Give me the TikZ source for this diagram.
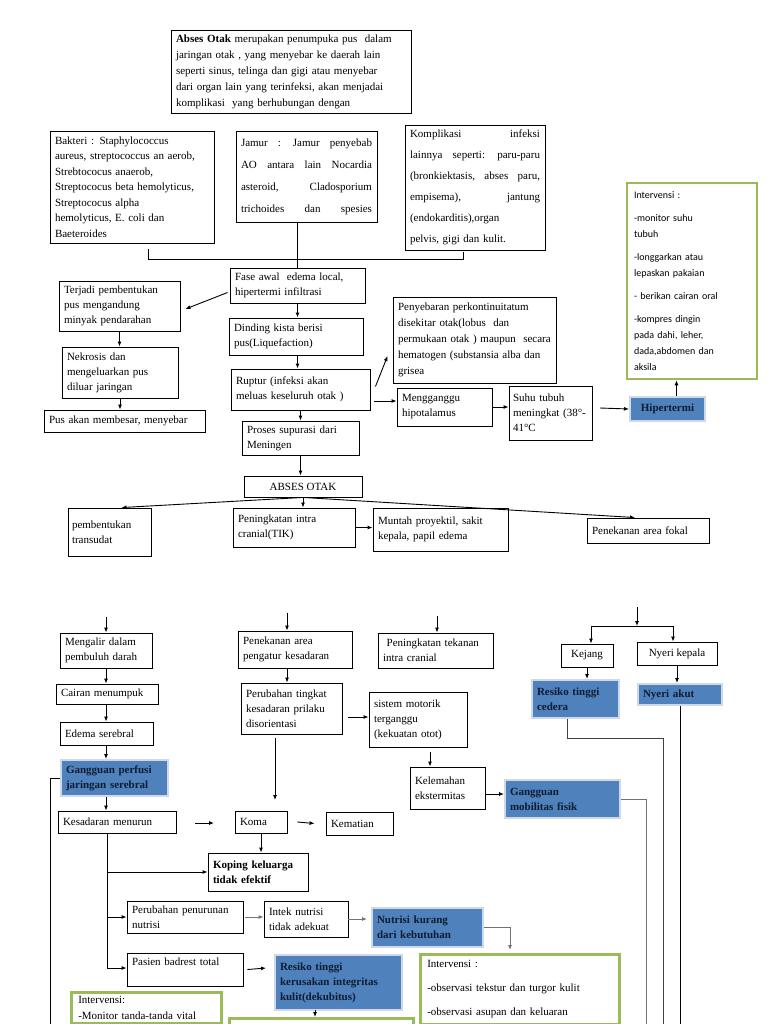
\documentclass[tikz,border=0pt]{standalone}
\usepackage{fontspec}
\setmainfont{Liberation Serif}
\newfontfamily\calib{Carlito}
\usepackage{xcolor}
\usetikzlibrary{arrows.meta}
\definecolor{dxblue}{RGB}{79,129,189}
\definecolor{dxedge}{RGB}{205,216,232}
\definecolor{dxtext}{RGB}{15,28,48}
\definecolor{ivgreen}{RGB}{155,187,89}

\begin{document}
\begin{tikzpicture}[x=1pt,y=-1pt,
  box/.style={draw, line width=0.9pt, inner xsep=5pt, inner ysep=2pt, align=left, font=\fontsize{11}{15}\selectfont},
  dx/.style={box, fill=dxblue, draw=dxedge, line width=2pt, text=dxtext, font=\fontsize{11}{15}\selectfont\bfseries},
  iv/.style={draw=ivgreen, line width=2.5pt, inner xsep=7pt, inner ysep=6pt, align=left},
  ln/.style={line width=0.9pt},
  gln/.style={ln, draw=black!55},
  arr/.style={ln, -{Latex[length=5pt,width=4pt]}}]
\useasboundingbox (0,0) rectangle (768,1024);

% upper part
\node[box, text width=230pt, minimum height=83pt, font=\fontsize{11}{16}\selectfont] (intro) at (291,71.5) {\textbf{Abses Otak} merupakan penumpuka pus\ \ dalam\\ jaringan otak , yang menyebar ke daerah lain\\ seperti sinus, telinga dan gigi atau menyebar\\ dari organ lain yang terinfeksi, akan menjadai\\ komplikasi\ \ yang berhubungan dengan};
\node[box, text width=154pt, minimum height=112pt, font=\fontsize{11}{15.5}\selectfont] (bakteri) at (132,187) {Bakteri : Staphylococcus\\ aureus, streptococcus an aerob,\\ Strebtococus anaerob,\\ Streptococus beta hemolyticus,\\ Streptococus alpha\\ hemolyticus, E. coli dan\\ Baeteroides};
\node[box, text width=131pt, minimum height=91pt, font=\fontsize{11}{22}\selectfont] (jamur) at (306.5,176.5) {Jamur \hfill: \hfill Jamur \hfill penyebab\\ AO \hfill antara \hfill lain \hfill Nocardia\\ asteroid, \hfill Cladosporium\\ trichoides \hfill dan \hfill spesies};
\node[box, text width=130pt, minimum height=125pt, font=\fontsize{11}{21}\selectfont] (kompl) at (475,187.5) {Komplikasi \hfill infeksi\\ lainnya \hfill seperti: \hfill paru-paru\\ (bronkiektasis, \hfill abses \hfill paru,\\ empisema), \hfill jantung\\ (endokarditis),organ\\ pelvis, gigi dan kulit.};
\node[iv, text width=116pt, minimum height=196pt, font=\calib\fontsize{10}{16}\selectfont] (intvA) at (692,281) {Intervensi :\\[7pt] -monitor suhu\\ tubuh\\[7pt] -longgarkan atau\\ lepaskan pakaian\\[7pt] - berikan cairan oral\\[7pt] -kompres dingin\\ pada dahi, leher,\\ dada,abdomen dan\\ aksila};

\node[box, text width=125pt, minimum height=35pt] (fase) at (297.5,285.5) {Fase awal\ \ edema local,\\ hipertermi infiltrasi};
\node[box, text width=111pt, minimum height=50pt] (terjadi) at (119.5,306) {Terjadi pembentukan\\ pus mengandung\\ minyak pendarahan};
\node[box, text width=106pt, minimum height=51pt] (nekrosis) at (120,372.5) {Nekrosis dan\\ mengeluarkan pus\\ diluar jaringan};
\node[box, text width=151pt, minimum height=22pt] (pus) at (124.5,421) {Pus akan membesar, menyebar};
\node[box, text width=124pt, minimum height=37pt] (dinding) at (296,336.5) {Dinding kista berisi\\ pus(Liquefaction)};
\node[box, text width=129pt, minimum height=41pt] (ruptur) at (300.5,389.5) {Ruptur (infeksi akan\\ meluas keseluruh otak )};
\node[box, text width=107pt, minimum height=34pt] (proses) at (300.5,438) {Proses supurasi dari\\ Meningen};
\node[box, text width=153pt, minimum height=86pt, font=\fontsize{11}{16}\selectfont] (penyeb) at (474.5,340) {Penyebaran perkontinuitatum\\ disekitar otak(lobus\ \ dan\\ permukaan otak ) maupun\ \ secara\\ hematogen (substansia alba dan\\ grisea};
\node[box, text width=85pt, minimum height=38pt] (mengg) at (444.5,407) {Mengganggu\\ hipotalamus};
\node[box, text width=75pt, inner xsep=4pt, minimum height=54pt] (suhu) at (550.5,413) {Suhu tubuh\\ meningkat (38°-\\ 41°C};
\node[dx, align=center, minimum width=75pt, minimum height=24pt] (hiper) at (667.5,409) {Hipertermi};

\node[box, align=center, minimum width=118pt, minimum height=21pt] (abses) at (303,486.5) {ABSES OTAK};
\node[box, text width=75pt, inner xsep=4pt, minimum height=48pt] (pembent) at (109.5,532) {pembentukan\\ transudat};
\node[box, text width=112pt, minimum height=39pt] (tik) at (294,527.5) {Peningkatan intra\\ cranial(TIK)};
\node[box, text width=125pt, minimum height=43pt] (muntah) at (440.5,529.5) {Muntah proyektil, sakit\\ kepala, papil edema};
\node[box, text width=112pt, minimum height=25pt] (fokal) at (648,530.5) {Penekanan area fokal};

\coordinate (busL) at (148,249);
\coordinate (busR) at (463,252);
\draw[ln] (busL) -- ++(0,10) -| (busR);
\draw[ln] (fase.north) -- (fase.north |- jamur.south);
\draw[arr] ([xshift=-2pt,yshift=-7pt]fase.west) -- ([xshift=5pt,yshift=-3pt]terjadi.east);
\draw[arr] (terjadi.south) -- (terjadi.south |- nekrosis.north);
\draw[arr] (nekrosis.south) -- (nekrosis.south |- pus.north);
\draw[arr] (fase.south) -- (fase.south |- dinding.north);
\draw[arr] (fase.south |- dinding.south) -- (fase.south |- ruptur.north);
\draw[arr] (ruptur.south) -- (ruptur.south |- proses.north);
\draw[arr] (proses.south) -- (proses.south |- abses.north);
\draw[arr] ([xshift=5pt,yshift=3pt]ruptur.east) -- ([xshift=-5pt,yshift=-16pt]penyeb.west);
\coordinate (r2m) at (374,401);
\draw[arr] (r2m) -- (r2m -| mengg.west);
\draw[arr] (mengg.east) -- (mengg.east -| suhu.west);
\coordinate (s2h) at (600,408);
\draw[arr] (s2h) -- (hiper.west);
\draw[arr] ([xshift=9pt]hiper.north) -- ([xshift=9pt]hiper.north |- intvA.south);
\draw[arr] (abses.south) -- ([xshift=12pt]pembent.north);
\draw[arr] (abses.south) -- (abses.south |- tik.north);
\draw[arr] (abses.south) -- ([xshift=-13pt]fokal.north);
\draw[arr] (tik.east) -- (tik.east -| muntah.west);

% lower part
\node[box, text width=82pt, minimum height=35pt] (mengalir) at (106,650.5) {Mengalir dalam\\ pembuluh darah};
\node[box, text width=92pt, minimum height=20pt] (cairan) at (107,694) {Cairan menumpuk};
\node[box, text width=83pt, minimum height=23pt] (edema) at (106.5,733.5) {Edema serebral};
\node[dx, text width=97pt, minimum height=36pt] (perfusi) at (114.5,778) {Gangguan perfusi\\ jaringan serebral};
\node[box, text width=108pt, minimum height=22pt] (kesad) at (117,822) {Kesadaran menurun};
\node[box, text width=104pt, minimum height=37pt] (penek) at (295,649.5) {Penekanan area\\ pengatur kesadaran};
\node[box, text width=105pt, minimum height=35pt] (peningT) at (435.5,650.5) {\ Peningkatan tekanan\\ intra cranial};
\node[box, text width=91pt, minimum height=51pt] (perubT) at (291.5,708.5) {Perubahan tingkat\\ kesadaran prilaku\\ disorientasi};
\node[box, text width=88pt, minimum height=55pt] (sistem) at (418,719.5) {sistem motorik\\ terganggu\\ (kekuatan otot)};
\node[box, text width=65pt, minimum height=42pt] (kelem) at (447.5,788) {Kelemahan\\ ekstermitas};
\node[dx, text width=105pt, minimum height=38pt] (mobil) at (562.5,799) {Gangguan\\ mobilitas fisik};
\node[box, text width=42pt, minimum height=22pt] (koma) at (261,822) {Koma};
\node[box, text width=57pt, minimum height=23pt] (kemat) at (359.5,823.5) {Kematian};
\node[box, text width=90pt, minimum height=38pt, font=\fontsize{11}{15}\selectfont\bfseries] (koping) at (258,872) {Koping keluarga\\ tidak efektif};
\node[box, align=center, minimum width=52pt, minimum height=23pt] (kejang) at (587,655.5) {Kejang};
\node[box, align=center, minimum width=80pt, minimum height=23pt] (nyeriK) at (677,653.5) {Nyeri kepala};
\node[dx, text width=77pt, minimum height=38pt] (cedera) at (575.5,699) {Resiko tinggi\\ cedera};
\node[dx, text width=74pt, minimum height=21pt] (nyeriA) at (680,694.5) {Nyeri akut};
\node[box, text width=106pt, minimum height=32pt] (perubP) at (185,917) {Perubahan penurunan\\ nutrisi};
\node[box, text width=74pt, minimum height=36pt] (intek) at (306,919) {Intek nutrisi\\ tidak adekuat};
\node[dx, text width=101pt, minimum height=39pt] (nutrisi) at (427.5,927.5) {Nutrisi kurang\\ dari kebutuhan};
\node[box, text width=106pt, minimum height=33pt] (pasien) at (185,969.5) {Pasien badrest total\\ \mbox{}};
\node[dx, text width=117pt, minimum height=55pt] (dekub) at (338.5,982.5) {Resiko tinggi\\ kerusakan integritas\\ kulit(dekubitus)};
\node[iv, anchor=north west, text width=136pt, inner ysep=4pt, font=\fontsize{11}{16}\selectfont] (intvB) at (70,991) {Intervensi:\\ -Monitor tanda-tanda vital};
\node[iv, anchor=north west, minimum width=184pt, minimum height=40pt] (intvC) at (228,1017) {};
\node[iv, anchor=north west, text width=185pt, font=\fontsize{11}{24}\selectfont] (intvD) at (419,953) {Intervensi :\\ -observasi tekstur dan turgor kulit\\ -observasi asupan dan keluaran};

\coordinate (in1) at (106,617);
\coordinate (in2) at (287,613);
\coordinate (in3) at (437,616);
\coordinate (in4) at (637,607);
\coordinate (split) at (637,626);
\draw[arr] (in1) -- (in1 |- mengalir.north);
\draw[arr] (in2) -- (in2 |- penek.north);
\draw[arr] (in3) -- (in3 |- peningT.north);
\draw[arr] (in4) -- (split);
\draw[arr] (split) -| ([xshift=4pt]kejang.north);
\draw[arr] (split) -| ([xshift=-4pt]nyeriK.north);

\draw[arr] (mengalir.south) -- (mengalir.south |- cairan.north);
\draw[arr] (mengalir.south |- cairan.south) -- (mengalir.south |- edema.north);
\draw[arr] (mengalir.south |- edema.south) -- (mengalir.south |- perfusi.north);
\draw[arr] (mengalir.south |- perfusi.south) -- (mengalir.south |- kesad.north);
\draw[arr] (in2 |- penek.south) -- (in2 |- perubT.north);
\coordinate (p2s) at (348,717);
\draw[arr] (p2s) -- (p2s -| sistem.west);
\coordinate (s2k) at (430,752);
\draw[arr] (s2k) -- (s2k |- kelem.north);
\coordinate (k2m) at (486,794);
\draw[arr] (k2m) -- (k2m -| mobil.west);
\coordinate (p2k) at (275,738);
\draw[arr] (p2k) -- ++(0,62);
\coordinate (k2k) at (195,823);
\draw[arr] (k2k) -- ++(19,0);
\draw[arr] ([xshift=10pt]koma.east) -- ([xshift=-11pt]kemat.west);
\draw[arr] (koma.south) -- (koma.south |- koping.north);
\draw[arr] (kejang.south) -- (kejang.south |- cedera.north);
\draw[arr] (nyeriK.south) -- (nyeriK.south |- nyeriA.north);

\coordinate (bot0) at (50,1024);
\coordinate (bot1) at (646,1024);
\coordinate (bot2) at (663,1024);
\draw[ln] (perfusi.west) -| (bot0);
\draw[gln] (mobil.east) -| (bot1);
\draw[ln, draw=black!75] ([xshift=-8.5pt]cedera.south) -- ++(0,19) -| (bot2);
\draw[ln] (nyeriA.south) -- (nyeriA.south |- bot2);

\coordinate (trunk) at (107,968);
\draw[ln] (trunk |- kesad.south) -- (trunk);
\draw[arr] (trunk |- koping.west) -- (koping.west);
\draw[arr] (trunk |- perubP.west) -- (perubP.west);
\draw[arr] (trunk) -- (trunk -| pasien.west);
\draw[arr, draw=black!55] ([xshift=2pt]perubP.east) -- (perubP.east -| intek.west);
\coordinate (i2n) at (367,919);
\draw[arr, draw=black!55] (intek.east) -- (i2n);
\coordinate (p2d) at (266,968);
\draw[arr] ([xshift=4pt]pasien.east) -- (p2d);
\coordinate (n2i) at (510,950);
\draw[arr, draw=black!55] (nutrisi.east) -| (n2i);
\coordinate (d2c) at (315,1010);
\draw[arr] (d2c) -- (d2c |- intvC.north);
\end{tikzpicture}
\end{document}
